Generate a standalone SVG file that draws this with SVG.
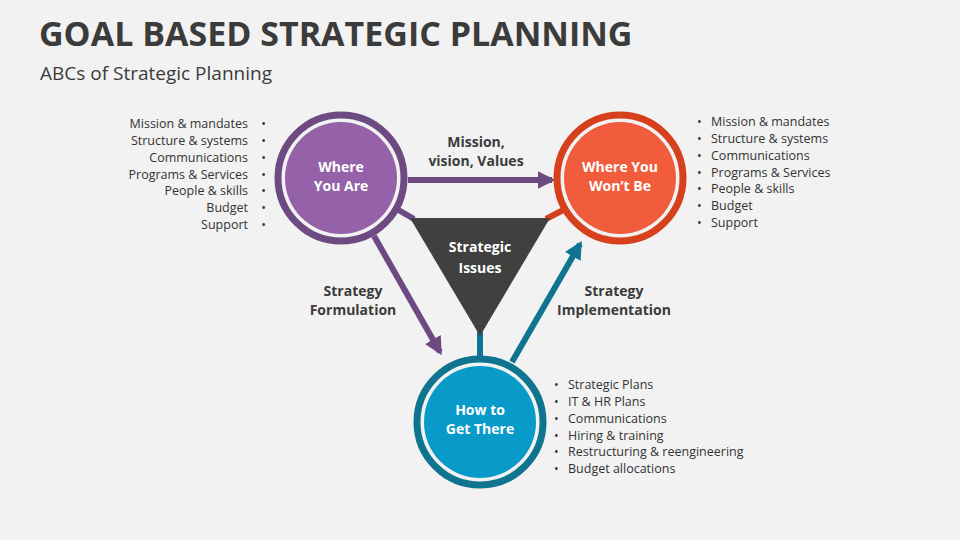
<svg xmlns="http://www.w3.org/2000/svg" width="960" height="540" viewBox="0 0 960 540">
<style>
text{font-family:"Open Sans","Liberation Sans",sans-serif}
.t{font-weight:bold;font-size:34px;fill:#3b3b3b}
.s{font-size:19px;fill:#3b3b3b}
.l{font-size:12.5px;fill:#333}
.lb{font-size:14px;font-weight:bold;fill:#3b3b3b;text-anchor:middle}
.c{font-size:14px;font-weight:bold;fill:#fff;text-anchor:middle}
</style>
<defs>
<marker id="ap" viewBox="0 0 10 10" refX="8" refY="5" markerWidth="3" markerHeight="3" orient="auto"><path d="M0,0L10,5L0,10z" fill="#6e4a82"/></marker>
<marker id="ab" viewBox="0 0 10 10" refX="8" refY="5" markerWidth="3" markerHeight="3" orient="auto"><path d="M0,0L10,5L0,10z" fill="#0f7490"/></marker>
</defs>
<rect width="960" height="540" fill="#f2f2f2"/>
<text class="t" x="39" y="46">GOAL BASED STRATEGIC PLANNING</text>
<text class="s" x="40" y="80">ABCs of Strategic Planning</text>
<g id="connectors" fill="none" stroke-width="6">
<line x1="395" y1="208" x2="414" y2="219" stroke="#6e4a82"/>
<line x1="567" y1="208" x2="546" y2="219" stroke="#d6401c"/>
<line x1="480" y1="330" x2="480" y2="357" stroke="#0f7490"/>
<line x1="408" y1="180" x2="552" y2="180" stroke="#6e4a82" marker-end="url(#ap)"/>
<line x1="374" y1="236" x2="440" y2="352" stroke="#6e4a82" marker-end="url(#ap)"/>
<line x1="512" y1="362" x2="580" y2="244" stroke="#0f7490" marker-end="url(#ab)"/>
</g>
<g id="issues">
<polygon points="410,218 550,218 480,336" fill="#404040"/>
<text class="c" x="480" y="252" font-size="15">Strategic</text>
<text class="c" x="480" y="273" font-size="15">Issues</text>
</g>
<g id="where-you-are">
<circle cx="341" cy="178" r="63" fill="#f2f2f2" stroke="#6e4a82" stroke-width="7"/>
<circle cx="341" cy="178" r="56" fill="#9561a8"/>
<text class="c" x="341" y="172">Where</text>
<text class="c" x="341" y="191">You Are</text>
</g>
<g id="where-you-wont-be">
<circle cx="620" cy="178" r="63" fill="#f2f2f2" stroke="#d6401c" stroke-width="7"/>
<circle cx="620" cy="178" r="56" fill="#f05c3c"/>
<text class="c" x="620" y="172">Where You</text>
<text class="c" x="620" y="191">Won’t Be</text>
</g>
<g id="how-to-get-there">
<circle cx="480" cy="422" r="63" fill="#f2f2f2" stroke="#0f7490" stroke-width="7"/>
<circle cx="480" cy="422" r="56" fill="#089ac8"/>
<text class="c" x="480" y="415">How to</text>
<text class="c" x="480" y="434">Get There</text>
</g>
<g id="labels">
<text class="lb" x="476" y="147">Mission,</text>
<text class="lb" x="476" y="166">vision, Values</text>
<text class="lb" x="353" y="296">Strategy</text>
<text class="lb" x="353" y="315">Formulation</text>
<text class="lb" x="614" y="296">Strategy</text>
<text class="lb" x="614" y="315">Implementation</text>
</g>
<g id="list-left" class="l" text-anchor="end">
<text x="248" y="128">Mission &amp; mandates</text>
<text x="248" y="145">Structure &amp; systems</text>
<text x="248" y="162">Communications</text>
<text x="248" y="179">Programs &amp; Services</text>
<text x="248" y="195">People &amp; skills</text>
<text x="248" y="212">Budget</text>
<text x="248" y="229">Support</text>
<text x="266" y="128">•</text><text x="266" y="145">•</text><text x="266" y="162">•</text><text x="266" y="179">•</text><text x="266" y="195">•</text><text x="266" y="212">•</text><text x="266" y="229">•</text>
</g>
<g id="list-right" class="l">
<text x="697" y="126">•</text><text x="697" y="143">•</text><text x="697" y="160">•</text><text x="697" y="177">•</text><text x="697" y="193">•</text><text x="697" y="210">•</text><text x="697" y="227">•</text>
<text x="711" y="126">Mission &amp; mandates</text>
<text x="711" y="143">Structure &amp; systems</text>
<text x="711" y="160">Communications</text>
<text x="711" y="177">Programs &amp; Services</text>
<text x="711" y="193">People &amp; skills</text>
<text x="711" y="210">Budget</text>
<text x="711" y="227">Support</text>
</g>
<g id="list-bottom" class="l">
<text x="554" y="389">•</text><text x="554" y="406">•</text><text x="554" y="423">•</text><text x="554" y="440">•</text><text x="554" y="456">•</text><text x="554" y="473">•</text>
<text x="568" y="389">Strategic Plans</text>
<text x="568" y="406">IT &amp; HR Plans</text>
<text x="568" y="423">Communications</text>
<text x="568" y="440">Hiring &amp; training</text>
<text x="568" y="456">Restructuring &amp; reengineering</text>
<text x="568" y="473">Budget allocations</text>
</g>
</svg>
